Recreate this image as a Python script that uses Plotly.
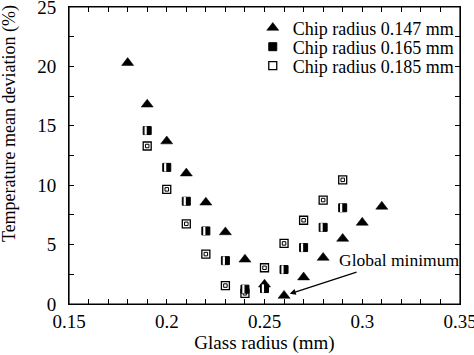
import plotly.graph_objects as go

glass_r = [0.18, 0.19, 0.20, 0.21, 0.22, 0.23, 0.24, 0.25, 0.26, 0.27, 0.28, 0.29, 0.30, 0.31]
dev_147 = [20.3, 16.8, 13.7, 11.0, 8.55, 6.05, 3.75, 1.65, 0.7, 2.25, 3.9, 5.5, 6.85, 8.2]

glass_r2 = [0.19, 0.20, 0.21, 0.22, 0.23, 0.24, 0.25, 0.26, 0.27, 0.28, 0.29]
dev_165 = [14.6, 11.5, 8.65, 6.15, 3.65, 1.25, 1.3, 2.9, 4.75, 6.45, 8.1]
dev_185 = [13.3, 9.65, 6.75, 4.2, 1.55, 0.9, 3.05, 5.1, 7.05, 8.75, 10.45]

labels = ["Chip radius 0.147 mm", "Chip radius 0.165 mm", "Chip radius 0.185 mm"]

FONT = "Liberation Serif"
x_range = [0.15, 0.35]
y_range = [0, 25]
shift = 0.0008  # ~1.5 px, for the white half of the half-filled square

fig = go.Figure()

fig.add_trace(go.Scatter(
    x=glass_r2, y=dev_185, mode="markers", name=labels[2], legend="legend3",
    marker=dict(symbol="square", size=8, color="white", line=dict(color="black", width=1.3)),
))
fig.add_trace(go.Scatter(
    x=glass_r2, y=dev_185, mode="markers", showlegend=False, hoverinfo="skip",
    marker=dict(symbol="square-open", size=3.5, color="black", line=dict(color="black", width=1)),
))
fig.add_trace(go.Scatter(
    x=glass_r2, y=dev_165, mode="markers", name=labels[1], legend="legend2",
    marker=dict(symbol="square", size=8, color="black", line=dict(color="black", width=1)),
))
fig.add_trace(go.Scatter(
    x=glass_r2, y=dev_165, mode="markers", showlegend=False, hoverinfo="skip", xaxis="x2",
    marker=dict(symbol="line-ns", size=6, color="white", line=dict(color="white", width=2.2)),
))
fig.add_trace(go.Scatter(
    x=glass_r, y=dev_147, mode="markers", name=labels[0], legend="legend",
    marker=dict(symbol="triangle-up", size=10.5, color="black", line=dict(color="black", width=0.5)),
))

axis_common = dict(
    showline=True, linecolor="black", linewidth=1, mirror="allticks",
    ticks="inside", ticklen=5, tickwidth=1, tickcolor="black",
    showgrid=False, zeroline=False, ticklabeloverflow="allow",
    tickfont=dict(family=FONT, size=19, color="black"),
)
minor_y = dict(dtick=2.5, ticks="inside", ticklen=5, tickcolor="black", showgrid=False)

fig.update_layout(
    width=474, height=355,
    margin=dict(l=69, r=14, t=7, b=51, autoexpand=False),
    paper_bgcolor="white", plot_bgcolor="white",
    showlegend=True,
    xaxis=dict(
        range=x_range, dtick=0.05, tick0=0.15,
        minor=dict(dtick=0.01, ticks="inside", ticklen=5, tickcolor="black", showgrid=False),
        title=dict(text="Glass radius (mm)", font=dict(family=FONT, size=19, color="black"), standoff=4),
        **axis_common,
    ),
    xaxis2=dict(
        range=[x_range[0] + shift, x_range[1] + shift], overlaying="x", anchor="y",
        visible=False,
    ),
    yaxis=dict(
        range=y_range, dtick=5, minor=minor_y, ticklabelstandoff=8,
        **axis_common,
    ),
)

leg_common = dict(
    x=0.47, xanchor="left", yanchor="middle", bgcolor="rgba(0,0,0,0)",
    font=dict(family=FONT, size=18, color="black"), borderwidth=0,
)
fig.update_layout(
    legend=dict(y=(304 - 28) / 297, **leg_common),
    legend2=dict(y=(304 - 47) / 297, **leg_common),
    legend3=dict(y=(304 - 66) / 297, **leg_common),
)

# plot frame drawn on top, so every edge shows
fig.add_shape(type="rect", xref="paper", yref="paper", x0=0, x1=1, y0=0, y1=1,
              line=dict(color="black", width=1.2), fillcolor="rgba(0,0,0,0)", layer="above")

fig.add_annotation(
    x=0.26, y=0.7, xref="x", yref="y", text="", showarrow=True,
    ax=74, ay=-24, arrowhead=2, arrowsize=1, arrowwidth=1.2, arrowcolor="black", standoff=6,
)
fig.add_annotation(
    x=0.2872, y=3.7, xref="x", yref="y", text="Global minimum", showarrow=False,
    xanchor="left", yanchor="middle", font=dict(family=FONT, size=17.5, color="black"),
)
fig.add_annotation(
    x=-0.1535, y=0.609, xref="paper", yref="paper", text="Temperature mean deviation (%)",
    showarrow=False, textangle=-90, xanchor="center", yanchor="middle",
    font=dict(family=FONT, size=18, color="black"),
)

fig.write_html(
    "out.html",
    config={"displayModeBar": False},
    post_script="document.body.style.margin='0';",
)
